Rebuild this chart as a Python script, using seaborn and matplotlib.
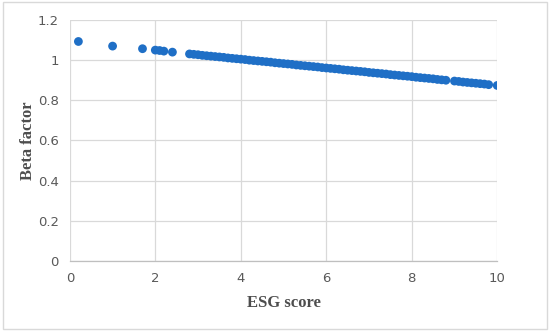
import pandas as pd
import seaborn as sns
import matplotlib.pyplot as plt
from matplotlib.patches import Rectangle

# ESG score / beta factor
esg_score = [0.2, 1.0, 1.7, 2.0, 2.1, 2.2, 2.4,
             2.8, 2.9, 3.0, 3.1, 3.2, 3.3, 3.4, 3.5, 3.6, 3.7, 3.8, 3.9,
             4.0, 4.1, 4.2, 4.3, 4.4, 4.5, 4.6, 4.7, 4.8, 4.9,
             5.0, 5.1, 5.2, 5.3, 5.4, 5.5, 5.6, 5.7, 5.8, 5.9,
             6.0, 6.1, 6.2, 6.3, 6.4, 6.5, 6.6, 6.7, 6.8, 6.9,
             7.0, 7.1, 7.2, 7.3, 7.4, 7.5, 7.6, 7.7, 7.8, 7.9,
             8.0, 8.1, 8.2, 8.3, 8.4, 8.5, 8.6, 8.7, 8.8,
             9.0, 9.1, 9.2, 9.3, 9.4, 9.5, 9.6, 9.7, 9.8, 10.0]
beta_factor = [1.093, 1.070, 1.057, 1.050, 1.048, 1.045, 1.040,
               1.031, 1.029, 1.027, 1.024, 1.022, 1.020, 1.018, 1.016, 1.014, 1.011, 1.009, 1.007,
               1.005, 1.003, 1.000, 0.998, 0.996, 0.994, 0.992, 0.990, 0.987, 0.985,
               0.983, 0.981, 0.979, 0.976, 0.974, 0.972, 0.970, 0.968, 0.966, 0.963,
               0.961, 0.959, 0.957, 0.955, 0.952, 0.950, 0.948, 0.946, 0.944, 0.942,
               0.939, 0.937, 0.935, 0.933, 0.931, 0.928, 0.926, 0.924, 0.922, 0.920,
               0.918, 0.915, 0.913, 0.911, 0.909, 0.907, 0.904, 0.902, 0.900,
               0.896, 0.894, 0.891, 0.889, 0.887, 0.885, 0.883, 0.881, 0.878, 0.874]
x_ticks = [0, 2, 4, 6, 8, 10]
y_ticks = [0, 0.2, 0.4, 0.6, 0.8, 1, 1.2]
y_labels = ["0", "0.2", "0.4", "0.6", "0.8", "1", "1.2"]

df = pd.DataFrame({"esg": esg_score, "beta": beta_factor})

sns.set_style("white")
fig = plt.figure(figsize=(5.5, 3.31), dpi=100)
ax = fig.add_axes([0.127, 0.2115, 0.777, 0.7281])

sns.scatterplot(data=df, x="esg", y="beta", ax=ax, color="#1f6fc6",
                s=40, edgecolor="none", linewidth=0, zorder=3)

ax.set_xlim(0, 10)
ax.set_ylim(0, 1.2)
ax.set_xticks(x_ticks)
ax.set_yticks(y_ticks)
ax.set_yticklabels(y_labels)
ax.grid(True, color="#d9d9d9", linewidth=0.9)
ax.set_axisbelow(True)

for side in ["top", "right", "left"]:
    ax.spines[side].set_visible(False)
ax.spines["bottom"].set_color("#bfbfbf")
ax.spines["bottom"].set_linewidth(0.9)

ax.tick_params(axis="both", length=0, labelsize=9.5, labelcolor="#595959", pad=8)

ax.set_xlabel("ESG score", fontsize=12, fontweight="bold", color="#4d4d4d",
              family="Liberation Serif", labelpad=7)
ax.set_ylabel("Beta factor", fontsize=12, fontweight="bold", color="#4d4d4d",
              family="Liberation Serif", labelpad=1)

# light frame round the whole chart
fig.patches.append(Rectangle((0.005, 0.005), 0.99, 0.99, transform=fig.transFigure,
                             fill=False, edgecolor="#d9d9d9", linewidth=1))

fig.savefig("out.png", dpi=100)
